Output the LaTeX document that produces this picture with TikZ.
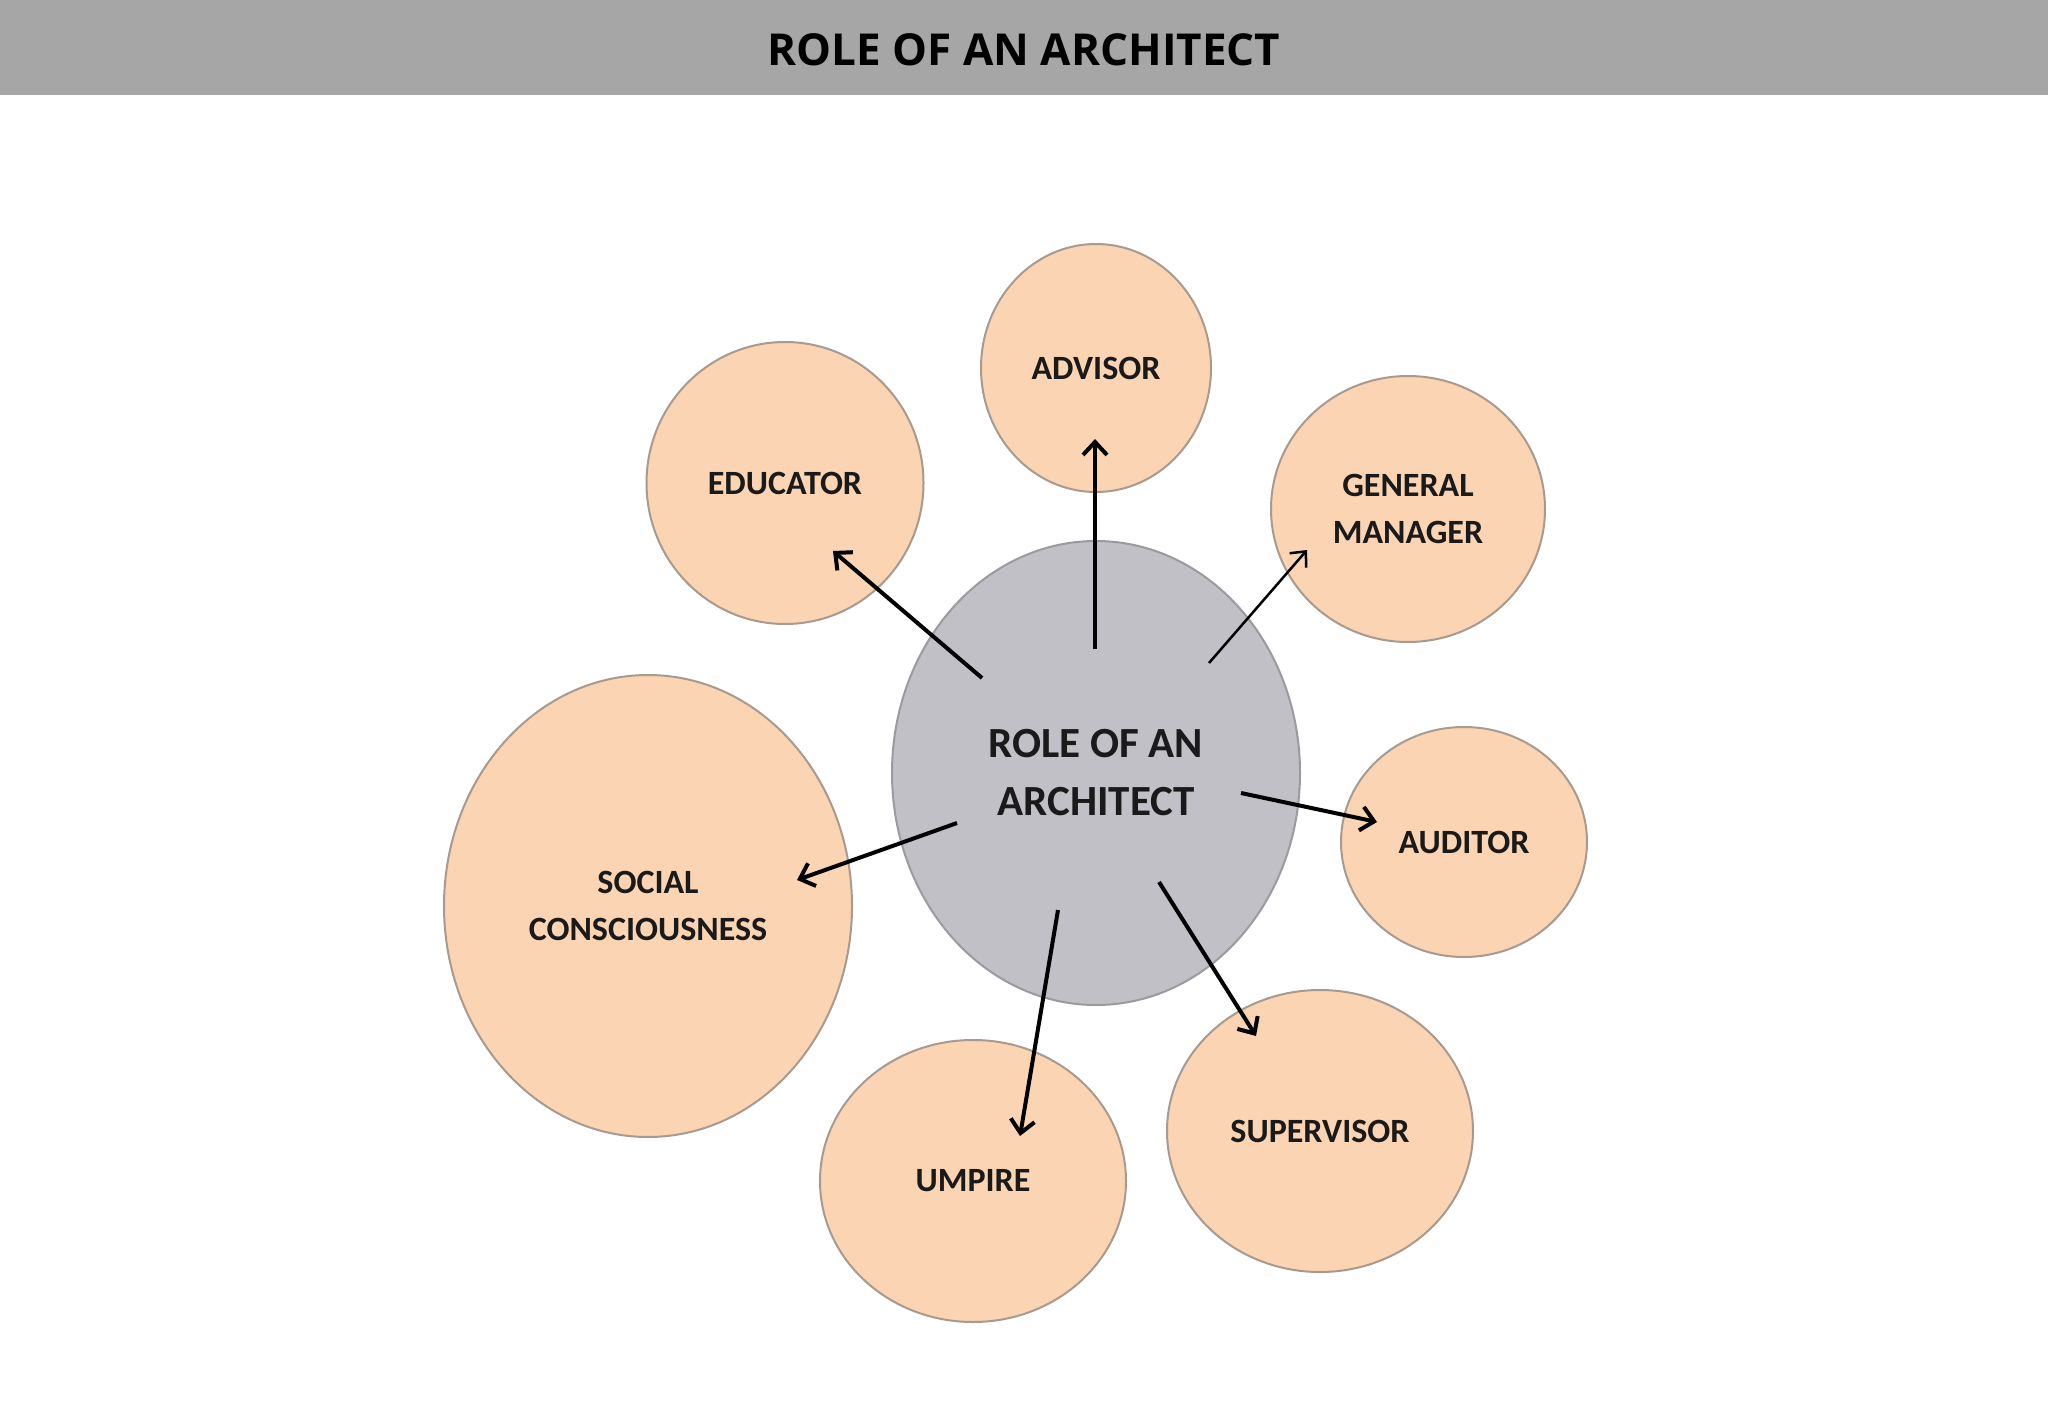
\documentclass[tikz,border=0pt]{standalone}
\usepackage{fontspec}
\setmainfont{Carlito}
\newfontfamily\titlefont{Open Sans}
\usetikzlibrary{arrows.meta,shapes.geometric}
\definecolor{hdr}{HTML}{A6A6A6}
\definecolor{peach}{HTML}{FAD4B3}
\definecolor{peachline}{HTML}{A89A8E}
\definecolor{hub}{HTML}{C0C0C6}
\definecolor{hubline}{HTML}{9A9AA0}
\definecolor{txt}{HTML}{1A1A1A}
\tikzset{
  role/.style={ellipse, fill=peach, draw=peachline, line width=2pt, inner sep=0pt,
    text=txt, align=center, font=\fontsize{34}{47}\selectfont\bfseries},
  hubnode/.style={ellipse, fill=hub, draw=hubline, line width=2pt, inner sep=0pt,
    text=txt, align=center, font=\fontsize{43}{58}\selectfont\bfseries},
  arr/.style={-{Straight Barb[length=13pt,width=24pt]}, line width=4pt, black},
  thinarr/.style={-{Straight Barb[length=12pt,width=22pt]}, line width=2.5pt, black}
}
\begin{document}
\begin{tikzpicture}[x=1pt,y=-1pt]
\useasboundingbox (0,0) rectangle (2048,1418);
\fill[white] (0,0) rectangle (2048,1418);
\fill[hdr] (0,0) rectangle (2048,95);
\node[font=\titlefont\fontsize{44}{50}\selectfont\bfseries, text=black] (title) at (1024,50) {ROLE OF AN ARCHITECT};

\node[role, minimum width=230pt, minimum height=248pt] (adv) at (1096,368) {ADVISOR};
\node[role, minimum width=277pt, minimum height=282pt] (edu) at (785,483) {EDUCATOR};
\node[role, minimum width=274pt, minimum height=266pt] (gm) at (1408,509) {GENERAL\\MANAGER};
\node[role, minimum width=246pt, minimum height=230pt] (aud) at (1464,842) {AUDITOR};
\node[role, minimum width=306pt, minimum height=282pt] (sup) at (1320,1131) {SUPERVISOR};
\node[role, minimum width=306pt, minimum height=282pt] (ump) at (973,1181) {UMPIRE};
\node[role, minimum width=408pt, minimum height=462pt] (soc) at (648,906) {SOCIAL\\CONSCIOUSNESS};
\node[hubnode, minimum width=408pt, minimum height=464pt] (hub) at (1096,773) {ROLE OF AN\\ARCHITECT};

\coordinate (s1) at (982,678);  \coordinate (e1) at (833,551);
\coordinate (s2) at (1095,649); \coordinate (e2) at (1095,439);
\coordinate (s3) at (1209,663); \coordinate (e3) at (1307,550);
\coordinate (s4) at (1241,793); \coordinate (e4) at (1377,822);
\coordinate (s5) at (1159,882); \coordinate (e5) at (1256,1036);
\coordinate (s6) at (1058,910); \coordinate (e6) at (1020,1136);
\coordinate (s7) at (957,823);  \coordinate (e7) at (797,880);

\draw[arr] (s1) -- (e1);
\draw[arr] (s2) -- (e2);
\draw[thinarr] (s3) -- (e3);
\draw[arr] (s4) -- (e4);
\draw[arr] (s5) -- (e5);
\draw[arr] (s6) -- (e6);
\draw[arr] (s7) -- (e7);
\end{tikzpicture}
\end{document}
